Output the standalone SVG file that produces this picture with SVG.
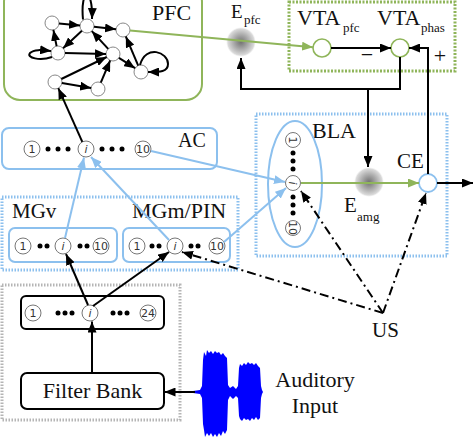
<svg xmlns="http://www.w3.org/2000/svg" width="474" height="437" viewBox="0 0 474 437">
<defs>
<marker id="ah" markerUnits="userSpaceOnUse" markerWidth="11" markerHeight="9" refX="11" refY="4.5" orient="auto"><path d="M0,0 L11,4.5 L0,9 z" fill="#000"/></marker>
<marker id="ahb" markerUnits="userSpaceOnUse" markerWidth="11" markerHeight="9" refX="11" refY="4.5" orient="auto"><path d="M0,0 L11,4.5 L0,9 z" fill="#8cc0ee"/></marker>
<marker id="ahg" markerUnits="userSpaceOnUse" markerWidth="11" markerHeight="9" refX="11" refY="4.5" orient="auto"><path d="M0,0 L11,4.5 L0,9 z" fill="#8fb55a"/></marker>
<radialGradient id="blob"><stop offset="0" stop-color="#727272"/><stop offset="0.55" stop-color="#b2b2b2"/><stop offset="0.88" stop-color="#dadada"/><stop offset="1" stop-color="#f0f0f0" stop-opacity="0"/></radialGradient>
</defs>
<style>
.lbl{font-family:"Liberation Serif","Times New Roman",serif;fill:#111}
.sub{font-family:"Liberation Serif","Times New Roman",serif;font-size:13px;fill:#111}
.nd{fill:#fff;stroke:#777;stroke-width:1}
.nt{font-family:"DejaVu Sans","Liberation Sans",sans-serif;font-size:11px;fill:#333;text-anchor:middle}
.pn{fill:#fff;stroke:#888;stroke-width:1}
.dot{fill:#000}
.blk{fill:none;stroke:#000;stroke-width:2}
.bl{fill:none;stroke:#8cc0ee;stroke-width:2}
.gr{fill:none;stroke:#8fb55a;stroke-width:2}
.dd{fill:none;stroke:#000;stroke-width:2;stroke-dasharray:9,4,2,4}
</style>
<rect width="474" height="437" fill="#fff"/>

<g id="pfc">
<rect x="4" y="-14" width="198" height="114" rx="16" fill="none" stroke="#8fb55a" stroke-width="2"/>
<text class="lbl" x="152" y="20" font-size="22">PFC</text>
<circle class="pn" cx="52" cy="23" r="7"/>
<circle class="pn" cx="87" cy="26" r="7"/>
<circle class="pn" cx="123" cy="30" r="7"/>
<circle class="pn" cx="58" cy="53" r="7"/>
<circle class="pn" cx="113" cy="54" r="7"/>
<circle class="pn" cx="141" cy="72" r="7"/>
<circle class="pn" cx="55" cy="82" r="7"/>
<circle class="pn" cx="98" cy="89" r="7"/>
</g>

<g id="vta">
<rect x="289" y="2" width="166" height="69" fill="none" stroke="#8fb55a" stroke-width="3" stroke-dasharray="2,1.5"/>
<text class="lbl" x="297" y="25" font-size="22">VTA</text><text class="sub" x="343" y="32">pfc</text>
<text class="lbl" x="377" y="25" font-size="22">VTA</text><text class="sub" x="421" y="32">phas</text>
<circle cx="322" cy="48" r="9" fill="#fff" stroke="#8fb55a" stroke-width="1.6"/>
<circle cx="400" cy="48" r="9" fill="#fff" stroke="#8fb55a" stroke-width="1.6"/>
<text class="lbl" x="367" y="62" font-size="22" text-anchor="middle">−</text>
<text class="lbl" x="440" y="63" font-size="22" text-anchor="middle">+</text>
</g>

<g id="epfc">
<circle cx="241" cy="42" r="15" fill="url(#blob)"/>
<text class="lbl" x="231" y="17.5" font-size="19">E</text><text class="sub" x="244" y="24">pfc</text>
</g>

<g id="ac">
<rect x="2" y="128" width="215" height="41" rx="7" fill="none" stroke="#8cc0ee" stroke-width="2"/>
<text class="lbl" x="178" y="147" font-size="20">AC</text>
<circle class="nd" cx="32" cy="149" r="8"/><text class="nt" x="32" y="153">1</text>
<circle class="dot" cx="48" cy="149" r="2.5"/><circle class="dot" cx="58" cy="149" r="2.5"/><circle class="dot" cx="68" cy="149" r="2.5"/>
<circle class="nd" cx="86" cy="149" r="8"/><text class="nt" x="86" y="153" font-style="italic">i</text>
<circle class="dot" cx="102" cy="149" r="2.5"/><circle class="dot" cx="112" cy="149" r="2.5"/><circle class="dot" cx="122" cy="149" r="2.5"/>
<circle class="nd" cx="143" cy="149" r="8"/><text class="nt" x="143" y="153">10</text>
</g>

<g id="bla">
<rect x="256" y="114" width="191" height="142" fill="none" stroke="#8cc0ee" stroke-width="3" stroke-dasharray="1.5,1.5"/>
<text class="lbl" x="312" y="138" font-size="22">BLA</text>
<ellipse cx="295" cy="184" rx="27" ry="63" fill="none" stroke="#8cc0ee" stroke-width="2"/>
<circle class="nd" cx="293" cy="140" r="7.5"/><text class="nt" transform="translate(293,140) rotate(90)" x="0" y="4">1</text>
<circle class="dot" cx="293" cy="153" r="2.5"/><circle class="dot" cx="293" cy="161" r="2.5"/><circle class="dot" cx="293" cy="169" r="2.5"/>
<circle class="nd" cx="293" cy="183" r="7.5"/><text class="nt" transform="translate(293,183) rotate(90)" x="0" y="4" font-style="italic">i</text>
<circle class="dot" cx="293" cy="197" r="2.5"/><circle class="dot" cx="293" cy="205" r="2.5"/><circle class="dot" cx="293" cy="213" r="2.5"/>
<circle class="nd" cx="293" cy="228" r="7.5"/><text class="nt" transform="translate(293,228) rotate(90)" x="0" y="4">10</text>
</g>

<g id="eamg">
<circle cx="369" cy="182" r="15" fill="url(#blob)"/>
<text class="lbl" x="344" y="212" font-size="21">E</text><text class="sub" x="357" y="221">amg</text>
</g>

<g id="ce">
<text class="lbl" x="397" y="168" font-size="21">CE</text>
<circle cx="428" cy="183" r="9" fill="#fff" stroke="#8cc0ee" stroke-width="1.8"/>
</g>

<g id="mg">
<rect x="2" y="197" width="236" height="73" fill="none" stroke="#8cc0ee" stroke-width="3" stroke-dasharray="1.5,1.5"/>
<text class="lbl" x="12" y="218" font-size="21">MGv</text>
<text class="lbl" x="132" y="218" font-size="22">MGm/PIN</text>
<rect x="9" y="228" width="108" height="34" rx="6" fill="none" stroke="#8cc0ee" stroke-width="2"/>
<rect x="123" y="228" width="107" height="34" rx="6" fill="none" stroke="#8cc0ee" stroke-width="2"/>
<circle class="nd" cx="23" cy="246" r="8"/><text class="nt" x="23" y="250">1</text>
<circle class="dot" cx="40" cy="246" r="2.5"/><circle class="dot" cx="47" cy="246" r="2.5"/>
<circle class="nd" cx="63" cy="246" r="8"/><text class="nt" x="63" y="250" font-style="italic">i</text>
<circle class="dot" cx="80" cy="246" r="2.5"/><circle class="dot" cx="87" cy="246" r="2.5"/>
<circle class="nd" cx="101" cy="246" r="8"/><text class="nt" x="101" y="250">10</text>
<circle class="nd" cx="137" cy="246" r="8"/><text class="nt" x="137" y="250">1</text>
<circle class="dot" cx="152" cy="246" r="2.5"/><circle class="dot" cx="159" cy="246" r="2.5"/>
<circle class="nd" cx="175" cy="246" r="8"/><text class="nt" x="175" y="250" font-style="italic">i</text>
<circle class="dot" cx="191" cy="246" r="2.5"/><circle class="dot" cx="198" cy="246" r="2.5"/>
<circle class="nd" cx="217" cy="246" r="8"/><text class="nt" x="217" y="250">10</text>
</g>

<g id="thal">
<rect x="2" y="285" width="178" height="135" fill="none" stroke="#b5b5b5" stroke-width="3" stroke-dasharray="1.5,1.5"/>
<rect x="21" y="296" width="143" height="33" rx="5" fill="none" stroke="#000" stroke-width="2"/>
<circle class="nd" cx="33" cy="313" r="8"/><text class="nt" x="33" y="317">1</text>
<circle class="dot" cx="58" cy="313" r="2.5"/><circle class="dot" cx="65" cy="313" r="2.5"/><circle class="dot" cx="72" cy="313" r="2.5"/>
<circle class="nd" cx="90" cy="313" r="8"/><text class="nt" x="90" y="317" font-style="italic">i</text>
<circle class="dot" cx="113" cy="313" r="2.5"/><circle class="dot" cx="120" cy="313" r="2.5"/><circle class="dot" cx="127" cy="313" r="2.5"/>
<circle class="nd" cx="148" cy="313" r="8"/><text class="nt" x="148" y="317">24</text>
</g>

<g id="filterbank">
<rect x="21" y="373" width="143" height="36" rx="6" fill="none" stroke="#000" stroke-width="2"/>
<text class="lbl" x="92.5" y="398" font-size="22" text-anchor="middle">Filter Bank</text>
</g>

<g id="wave">
<path fill="#0000ff" d="M193,391 L200,390 202,386 203,360 204,352 206,356 207,350 209,353 211,351 213,354 215,351 217,353 219,352 221,355 223,353 225,356 227,358 228,385 230,388 233,386 236,389 238,386 239,368 240,364 242,366 244,363 246,365 248,362 250,364 252,363 254,365 256,363 258,366 260,368 261,386 262,390 263,392 262,394 261,398 260,418 258,420 256,417 254,420 252,418 250,421 248,419 246,420 244,418 242,421 240,419 239,416 238,398 236,396 233,399 230,396 228,400 227,430 225,434 223,431 221,436 219,433 217,437 215,434 213,437 211,433 209,436 207,433 205,437 204,430 203,424 202,398 200,394 193,393 z"/>
<text class="lbl" x="315" y="387" font-size="22" text-anchor="middle">Auditory</text>
<text class="lbl" x="315" y="413" font-size="22" text-anchor="middle">Input</text>
</g>

<g id="us">
<text class="lbl" x="372" y="337" font-size="21">US</text>
</g>

<g id="connectors">
<g class="blk" marker-end="url(#ah)">
<path d="M59,23.6 L80,25.4"/>
<path d="M94,26.8 L116,29.2"/>
<path d="M81.9,30.8 L63.1,48.2"/>
<path d="M56.6,46.1 L53.4,29.9"/>
<path d="M65,53.1 L106,53.9"/>
<path d="M108.2,48.9 L91.8,31.1"/>
<path d="M118.9,57.8 L135.1,68.2"/>
<path d="M138.2,65.6 L125.8,36.4"/>
<path d="M61.3,79 L106.7,57"/>
<path d="M61.9,83.1 L91.1,87.9"/>
<path d="M100.8,82.6 L110.2,60.4"/>
<path d="M83,19.5 C80,-12 93,-14 92,19"/>
<path d="M52,57 C40,61 26,58 30,53 C34,49 42,50 51,51"/>
<path d="M140,65 C146,44 168,52 168,64 C168,72 160,72 148,72"/>
<path d="M82.3,141.9 L58.3,88.2"/>
</g>
<path class="gr" d="M130,30.6 L313,47.2" marker-end="url(#ahg)"/>
<path class="blk" d="M331,48 L391,48" marker-end="url(#ah)"/>
<path class="blk" d="M400,57 V89 H241 V58" marker-end="url(#ah)"/>
<path class="blk" d="M368,89 V167" marker-end="url(#ah)"/>
<path class="blk" d="M428,174 V48 H409" marker-end="url(#ah)"/>
<path class="blk" d="M437,183 H473" marker-end="url(#ah)"/>
<path class="gr" d="M301,183 H419" marker-end="url(#ahg)"/>
<path class="bl" d="M151,151 L285,182" marker-end="url(#ahb)"/>
<path class="bl" d="M224,242 L286,188" marker-end="url(#ahb)"/>
<path class="bl" d="M65,238 L84,157.5" marker-end="url(#ahb)"/>
<path class="bl" d="M169,240 L91,157" marker-end="url(#ahb)"/>
<path class="blk" d="M88,305 L66,254" marker-end="url(#ah)"/>
<path class="blk" d="M93,306 L169,252" marker-end="url(#ah)"/>
<path class="blk" d="M92,373 V321.5" marker-end="url(#ah)"/>
<path class="blk" d="M195,392 H164.5" marker-end="url(#ah)"/>
<path class="dd" d="M383,313 L301,191" marker-end="url(#ah)"/>
<path class="dd" d="M383,313 L426,193" marker-end="url(#ah)"/>
<path class="dd" d="M383,313 L182,252" marker-end="url(#ah)"/>
</g>
</svg>
